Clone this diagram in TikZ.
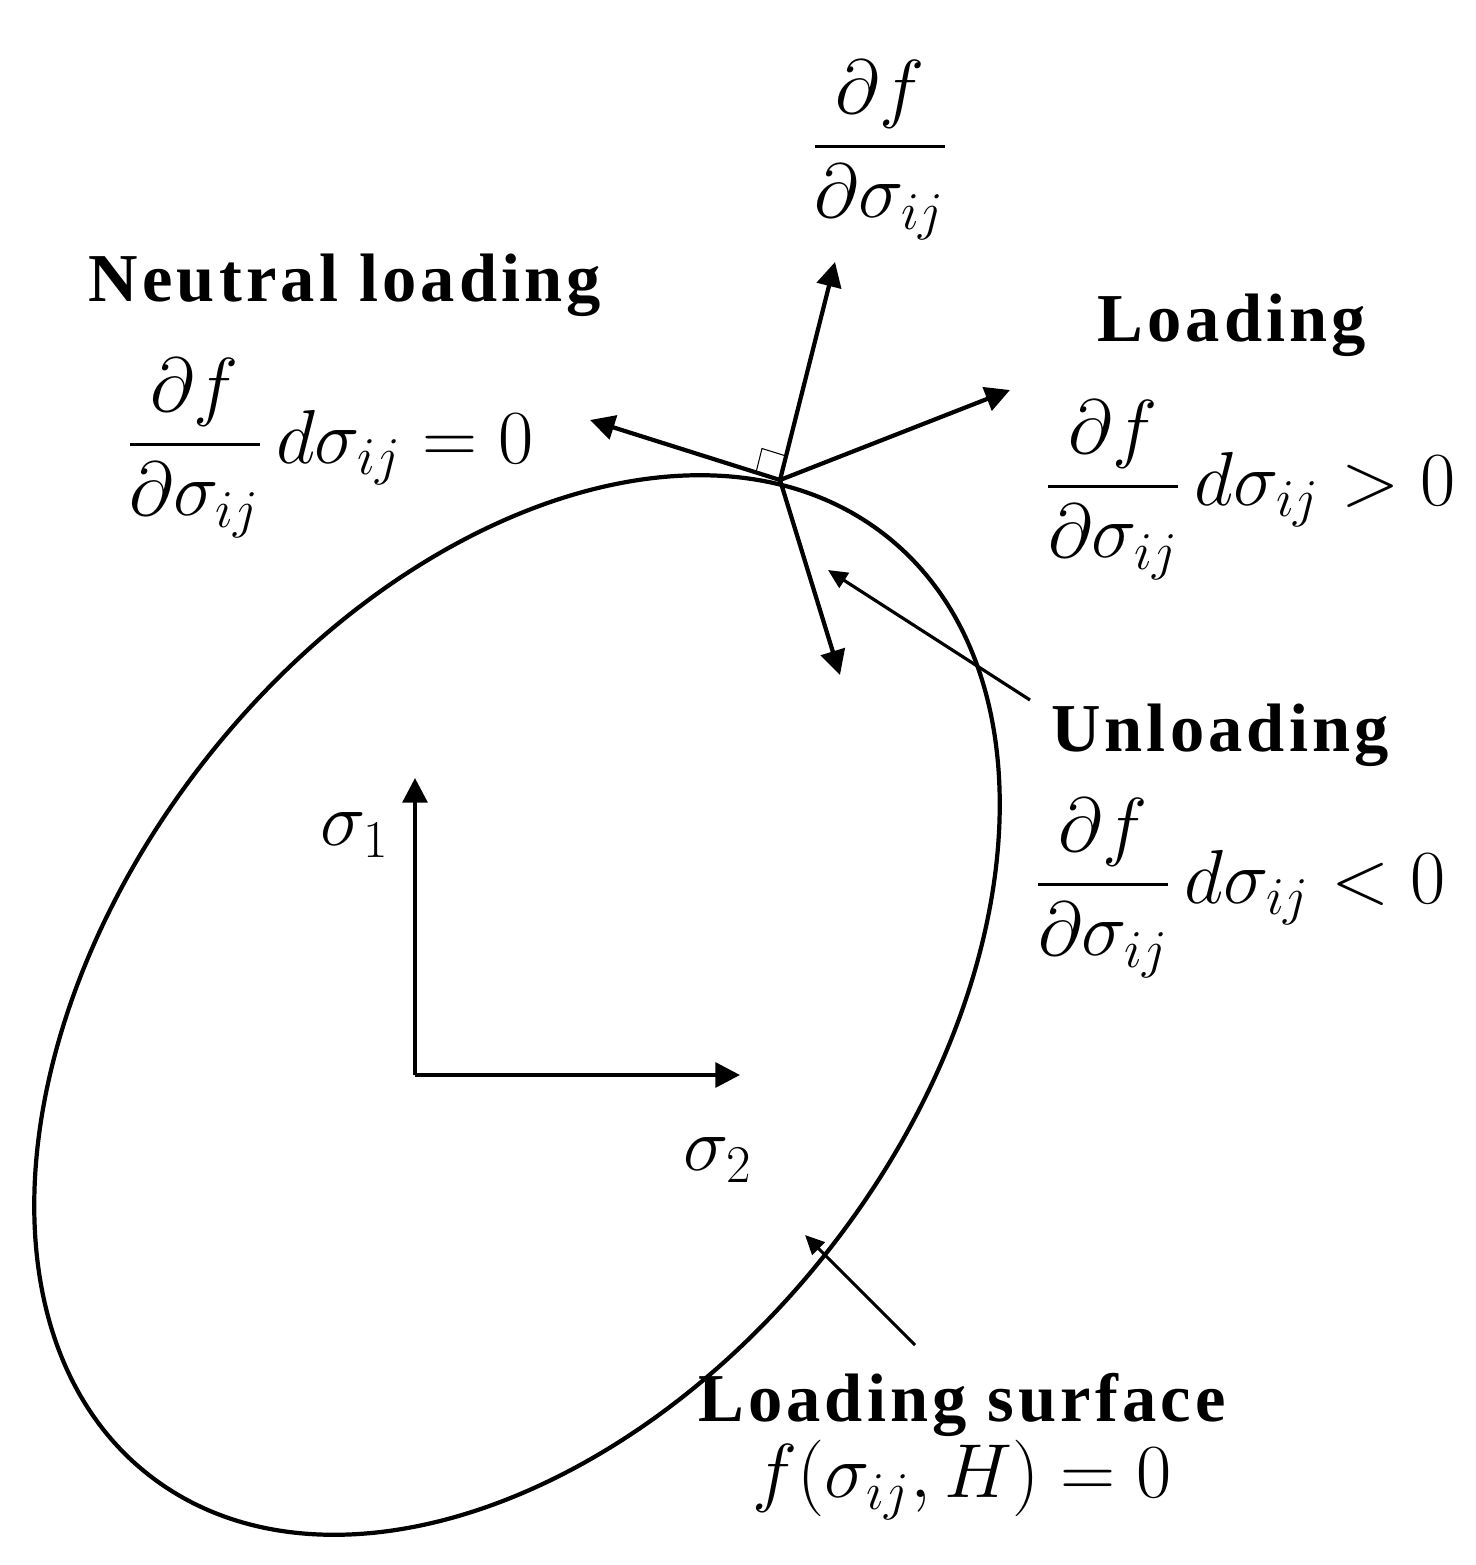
\documentclass[tikz,border=0pt]{standalone}
\usepackage{amsmath}
\usepackage{fontspec}
\setmainfont{Liberation Serif}
\newfontfamily\spaced[LetterSpace=6]{Liberation Serif}
\usetikzlibrary{arrows.meta,calc}
\tikzset{
  ln/.style={line width=2.4pt},
  arr/.style={ln,-{Triangle[length=14pt,width=14pt]}},
  ptr/.style={line width=1.8pt,-{Triangle[length=11pt,width=10pt]}},
  lbl/.style={font=\fontsize{39}{46}\selectfont\spaced\bfseries},
  eq/.style={font=\fontsize{24}{29}\selectfont,scale=1.75}
}
\begin{document}
\begin{tikzpicture}[x=0.02cm,y=0.02cm]
\useasboundingbox (0,0) rectangle (1475,-1565);
\draw[ln,rotate around={51.9:(517,-1005)}] (517,-1005) ellipse (597 and 396.5);
\coordinate (P) at (780,-480);
\coordinate (Nup) at (835,-262);
\coordinate (Nl) at (590,-420);
\coordinate (Nr) at (1010,-390);
\coordinate (Nd) at (840,-675);
\draw[arr] (P) -- (Nup);
\draw[arr] (P) -- (Nl);
\draw[arr] (P) -- (Nr);
\draw[arr] (P) -- (Nd);
\draw[line width=0.6pt] ($(P)+(-24,7.5)$) -- ($(P)+(-18,31.5)$) -- ($(P)+(6,24)$);
\coordinate (O) at (415,-1075);
\coordinate (A1) at (415,-778);
\coordinate (A2) at (740,-1075);
\draw[arr] (O) -- (A1);
\draw[arr] (O) -- (A2);
\node[eq] (s1) at (355,-835) {$\sigma_1$};
\node[eq] (s2) at (718,-1160) {$\sigma_2$};
\node[eq] (top) at (880,-150) {$\dfrac{\partial f}{\partial\sigma_{ij}}$};
\node[lbl] (nl) at (345,-285) {Neutral loading};
\node[eq] (nle) at (330,-448) {$\dfrac{\partial f}{\partial\sigma_{ij}}\,d\sigma_{ij}=0$};
\node[lbl] (ld) at (1232,-325) {Loading};
\node[eq] (lde) at (1250,-490) {$\dfrac{\partial f}{\partial\sigma_{ij}}\,d\sigma_{ij}>0$};
\node[lbl] (ul) at (1220,-735) {Unloading};
\node[eq] (ule) at (1240,-888) {$\dfrac{\partial f}{\partial\sigma_{ij}}\,d\sigma_{ij}<0$};
\node[lbl] (ls) at (962,-1405) {Loading surface};
\node[eq] (lse) at (962,-1480) {$f(\sigma_{ij},H)=0$};
\coordinate (u1) at (1030,-700);
\coordinate (u2) at (828,-570);
\draw[ptr] (u1) -- (u2);
\coordinate (l1) at (915,-1345);
\coordinate (l2) at (805,-1235);
\draw[ptr] (l1) -- (l2);
\end{tikzpicture}
\end{document}
